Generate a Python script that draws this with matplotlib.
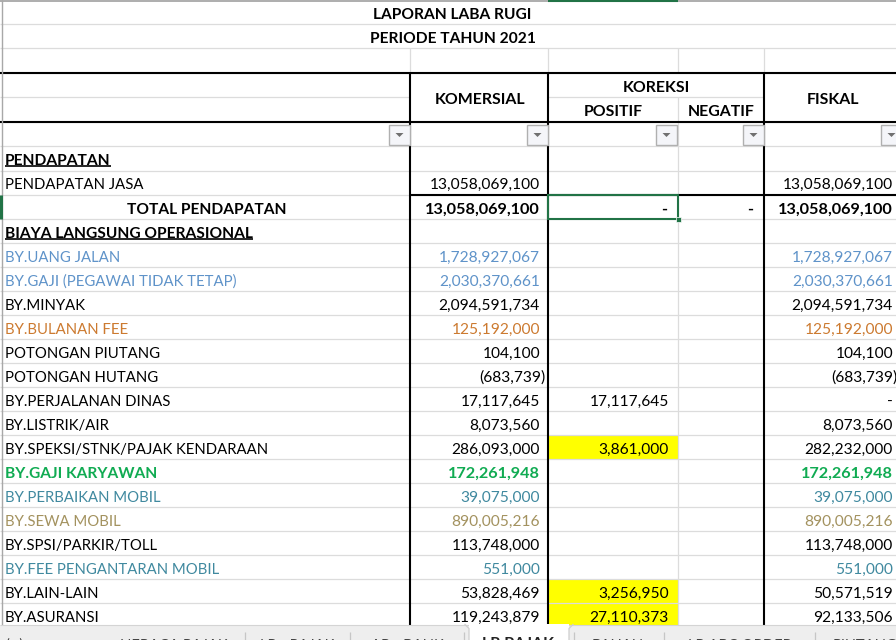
import matplotlib
matplotlib.use("Agg")
import matplotlib.pyplot as plt
from matplotlib.patches import Rectangle, Polygon

plt.rcParams['font.family'] = ['Lato', 'DejaVu Sans']

title_lines = ["LAPORAN LABA RUGI", "PERIODE TAHUN 2021"]
head_komersial = "KOMERSIAL"
head_koreksi = "KOREKSI"
head_positif = "POSITIF"
head_negatif = "NEGATIF"
head_fiskal = "FISKAL"

labels = ["PENDAPATAN", "PENDAPATAN JASA", "TOTAL PENDAPATAN", "BIAYA LANGSUNG OPERASIONAL",
          "BY.UANG JALAN", "BY.GAJI (PEGAWAI TIDAK TETAP)", "BY.MINYAK", "BY.BULANAN FEE",
          "POTONGAN PIUTANG", "POTONGAN HUTANG", "BY.PERJALANAN DINAS", "BY.LISTRIK/AIR",
          "BY.SPEKSI/STNK/PAJAK KENDARAAN", "BY.GAJI KARYAWAN", "BY.PERBAIKAN MOBIL",
          "BY.SEWA MOBIL", "BY.SPSI/PARKIR/TOLL", "BY.FEE PENGANTARAN MOBIL", "BY.LAIN-LAIN",
          "BY.ASURANSI"]
komersial = [None, 13058069100, 13058069100, None, 1728927067, 2030370661, 2094591734, 125192000,
             104100, -683739, 17117645, 8073560, 286093000, 172261948, 39075000, 890005216,
             113748000, 551000, 53828469, 119243879]
positif = [None, None, 0, None, None, None, None, None, None, None, 17117645, None, 3861000,
           None, None, None, None, None, 3256950, 27110373]
negatif = [None, None, 0] + [None] * 17
fiskal = [None, 13058069100, 13058069100, None, 1728927067, 2030370661, 2094591734, 125192000,
          104100, -683739, 0, 8073560, 282232000, 172261948, 39075000, 890005216,
          113748000, 551000, 50571519, 92133506]
row_colors = ["k", "k", "k", "k", "#5f93c9", "#5f93c9", "k", "#cc7a30", "k", "k", "k", "k", "k",
              "#10ab52", "#40899f", "#a3925f", "k", "#40899f", "k", "k"]
bold_rows = {0, 2, 3, 13}
highlighted_positif = {12, 18, 19}
tabs = ["(...)", "NERACA PAJAK", "LR - PAJAK", "AR - BANK", "LR PAJAK", "BAHAN", "LR ABC ORDER", "PIUTANG"]
tab_centers = [15, 174, 297, 407, 518, 618, 740, 865]

W, H = 896, 640
FS = 11.2
FS_LABEL = 10.75
FS_BOLDNUM = 11.7
YOFF = 2
fig = plt.figure(figsize=(W / 100, H / 100), dpi=100, facecolor="white")
ax = fig.add_axes([0, 0, 1, 1])
ax.set_xlim(0, W)
ax.set_ylim(H, 0)
ax.axis("off")

GRID = "#dcdcdc"
X_A, X_B, X_C, X_D = 410, 548, 678, 764
top_edges = [24, 48, 72.5, 97, 122, 146, 170.5, 195, 219, 243.3]
edges = top_edges + [243.3 + 24 * i for i in range(1, 16)]
data_edges = [146, 170.5, 195, 219] + edges[9:]
BOTTOM = 624.5


def hline(y, x0=0, x1=W, c=GRID, lw=0.9, z=2):
    ax.plot([x0, x1], [y, y], color=c, lw=lw, solid_capstyle="butt", zorder=z)


def vline(x, y0, y1, c=GRID, lw=0.9, z=2):
    ax.plot([x, x], [y0, y1], color=c, lw=lw, solid_capstyle="butt", zorder=z)


# yellow cells
for i in highlighted_positif:
    y0 = data_edges[i]
    y1 = min(data_edges[i + 1] if i + 1 < len(data_edges) else BOTTOM, BOTTOM)
    ax.add_patch(Rectangle((X_B, y0), X_C - X_B, y1 - y0, fc="#ffff00", ec="none", zorder=1))

# light grid
for y in edges:
    if y == 97:
        hline(y, 0, X_A)
        hline(y, X_B, X_D)
    else:
        hline(y)
for x in (X_A, X_B, X_C, X_D):
    vline(x, 48, 72.5)
vline(X_C, 97, BOTTOM)

# heavy lines
K = "#000000"
hline(72.7, 0, W, K, 1.5, 4)
hline(122, 0, W, K, 1.5, 4)
hline(195, X_A, W, K, 1.5, 4)
for x in (X_A, X_B, X_D):
    vline(x, 72, BOTTOM, K, 1.5, 4)

# window edges and selection
hline(0.5, 0, W, "#a0a0a0", 1.2, 5)
hline(0.5, X_B, X_C, "#217346", 1.5, 6)
vline(1.5, 0, BOTTOM, "#a8a8a8", 1.0, 5)
vline(1, 195, 219, "#217346", 2.2, 6)
ax.add_patch(Rectangle((X_B, 195), X_C - X_B, 24.3, fc="none", ec="#217346", lw=1.5, zorder=6))
ax.add_patch(Rectangle((X_C - 2.5, 216.5), 5, 5, fc="#217346", ec="white", lw=0.5, zorder=7))

# titles and headers
bold = dict(fontweight="bold", color="k", va="center", zorder=8)
ax.text(452.5, 13 + YOFF, title_lines[0], ha="center", fontsize=FS, **bold)
ax.text(452.5, 37 + YOFF, title_lines[1], ha="center", fontsize=FS, **bold)
ax.text(480, 98 + YOFF, head_komersial, ha="center", fontsize=FS + 0.2, **bold)
ax.text(656.5, 85.5 + YOFF, head_koreksi, ha="center", fontsize=FS + 0.2, **bold)
ax.text(613, 110 + YOFF, head_positif, ha="center", fontsize=FS + 0.2, **bold)
ax.text(721, 110 + YOFF, head_negatif, ha="center", fontsize=FS + 0.2, **bold)
ax.text(833.5, 98 + YOFF, head_fiskal, ha="center", fontsize=FS + 0.2, **bold)

# filter buttons
for x in (389, 527, 656, 743, 881):
    ax.add_patch(Rectangle((x, 124.5), 20.5, 20.5, fc="#f4f5f9", ec="#b0b0b0", lw=1, zorder=9))
    ax.add_patch(Polygon([(x + 6.5, 133), (x + 14.5, 133), (x + 10.5, 137)], fc="#707070", ec="none", zorder=10))


def fmt(v):
    if v is None:
        return ""
    if v == 0:
        return "-"
    if v < 0:
        return "({:,})".format(-v)
    return "{:,}".format(v)


# body
fig.canvas.draw()
rend = fig.canvas.get_renderer()
for i, lab in enumerate(labels):
    yc = (data_edges[i] + data_edges[i + 1]) / 2 + 0.5 if i + 1 < len(data_edges) else 615.5
    y = yc + YOFF
    is_bold = i in bold_rows
    weight = "bold" if is_bold else "normal"
    kw = dict(fontweight=weight, color=row_colors[i], va="center", clip_on=True, zorder=3)
    if i == 2:
        ax.text(206.5, y, lab, ha="center", fontsize=FS, **kw)
    else:
        t = ax.text(5, y, lab, ha="left", fontsize=FS if is_bold else FS_LABEL, **kw)
        if i in (0, 3):
            bb = t.get_window_extent(rend)
            ax.plot([5, bb.x1], [yc + 7.7, yc + 7.7], color="k", lw=1.2, zorder=3, solid_capstyle="butt")
    for vals, xr in ((komersial, 540), (positif, 669), (negatif, 755), (fiskal, 893)):
        v = vals[i]
        if v is None:
            continue
        xx = xr + 5 if v < 0 else xr
        if v == 0:
            xx = xr - 2 if xr != 893 else 893
        ax.text(xx, y, fmt(v), ha="right", fontsize=FS_BOLDNUM if is_bold else FS, **kw)

# tab bar
ax.add_patch(Rectangle((0, BOTTOM), W, H - BOTTOM, fc="#eeeeee", ec="none", zorder=20))
hline(BOTTOM, 0, W, "#d4d4d4", 0.8, 21)
ax.add_patch(Rectangle((469, BOTTOM - 0.6), 100, H - BOTTOM + 1, fc="white", ec="none", zorder=22))
for x, s in ((469, -1), (569, 1)):
    ax.plot([x + 4 * s, x, x], [BOTTOM, 628.5, H], color="#cfcfcf", lw=0.9, zorder=23)
for x in (245, 350, 464, 574, 664, 815):
    vline(x, 632, 640, "#c6c6c6", 0.9, 21)
for i, (tab, xc) in enumerate(zip(tabs, tab_centers)):
    active = i == 4
    ax.text(xc, 645.5 - (2 if active else 0), tab, ha="center", va="center",
            fontsize=FS - 0.6 + (0.9 if active else 0),
            fontweight="bold" if active else "normal", color="#222222" if active else "#444444",
            zorder=24, clip_on=True)

fig.savefig("out.png", dpi=100, facecolor="white")
